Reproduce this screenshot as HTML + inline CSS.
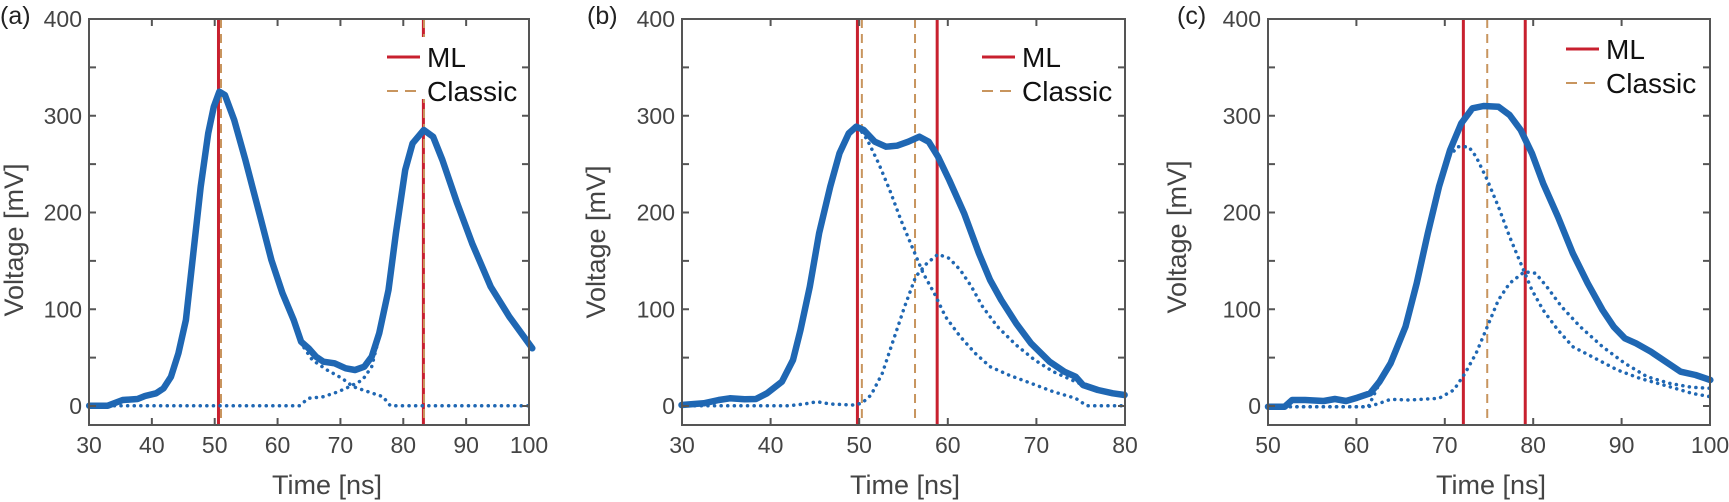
<!DOCTYPE html>
<html><head><meta charset="utf-8"><style>
html,body{margin:0;padding:0;background:#fff;}
svg{display:block;font-family:"Liberation Sans",sans-serif;}
</style></head><body>
<svg id="s" width="1729" height="502" viewBox="0 0 1729 502" xmlns="http://www.w3.org/2000/svg">
</svg>
<script>
const S=document.getElementById('s');
const NS='http://www.w3.org/2000/svg';
function el(t,a,txt){const e=document.createElementNS(NS,t);for(const k in a)e.setAttribute(k,a[k]);if(txt!==undefined)e.textContent=txt;S.appendChild(e);return e;}
function path(arr,x0,st){const d=[];for(let i=0;i<arr.length;i+=2)d.push((i?'L':'M')+(x0+arr[i]/2.69).toFixed(1)+' '+(arr[i+1]/3).toFixed(1));el('path',Object.assign({d:d.join(''),fill:'none','stroke-linejoin':'round','stroke-linecap':'round'},st));}
const BLUE='#1f67b3',RED='#c8202f',CL='#c8955e',AX='#555';
const MAIN={stroke:BLUE,'stroke-width':6.5};
const DOT={stroke:BLUE,'stroke-width':3.5,'stroke-dasharray':'0.1 6.5','stroke-linecap':'round'};
function panel(o){
 const L=o.L,R=o.R,T=19,B=425,Y0=406,k=(Y0-T)/400;
 const xs=v=>L+(v-o.t0)/(o.t1-o.t0)*(R-L);
 o.red.forEach(t=>el('line',{x1:xs(t),x2:xs(t),y1:T,y2:B,stroke:RED,'stroke-width':3}));
 o.cls.forEach(t=>el('line',{x1:xs(t),x2:xs(t),y1:T,y2:B,stroke:CL,'stroke-width':2,'stroke-dasharray':'9 6'}));
 o.dots.forEach(a=>path(a,o.x0,DOT));
 path(o.main,o.x0,MAIN);
 const lg=o.lg;
 if(o.lgbg) el('rect',{x:lg.x-6,y:lg.y-20,width:R-lg.x+4,height:62,fill:'#fff'});
 el('line',{x1:lg.x,x2:lg.x+33,y1:lg.y,y2:lg.y,stroke:RED,'stroke-width':3});
 el('line',{x1:lg.x,x2:lg.x+33,y1:lg.y+34,y2:lg.y+34,stroke:CL,'stroke-width':2,'stroke-dasharray':'11 7'});
 el('text',{x:lg.x+40,y:lg.y+10,'font-size':28,fill:'#111'},'ML');
 el('text',{x:lg.x+40,y:lg.y+44,'font-size':28,fill:'#111'},'Classic');
 el('rect',{x:L,y:T,width:R-L,height:B-T,fill:'none',stroke:AX,'stroke-width':2});
 for(let v=0;v<=400;v+=50){const y=Y0-v*k;
  el('line',{x1:L,x2:L+7,y1:y,y2:y,stroke:AX,'stroke-width':2});
  el('line',{x1:R-7,x2:R,y1:y,y2:y,stroke:AX,'stroke-width':2});
  if(v%100==0) el('text',{x:L-7,y:y+8,'font-size':23,fill:'#444','text-anchor':'end'},String(v));}
 for(let t=o.t0;t<=o.t1;t+=10){const x=xs(t);
  el('line',{x1:x,x2:x,y1:B,y2:B-7,stroke:AX,'stroke-width':2});
  el('line',{x1:x,x2:x,y1:T,y2:T+7,stroke:AX,'stroke-width':2});
  el('text',{x:x,y:453,'font-size':23,fill:'#444','text-anchor':'middle'},String(t));}
 el('text',{x:o.tx,y:494,'font-size':27,fill:'#444','text-anchor':'middle'},'Time [ns]');
 el('text',{x:0,y:0,'font-size':27,fill:'#444','text-anchor':'middle',transform:`translate(${o.vx+9},${o.vy}) rotate(-90)`},'Voltage [mV]');
 el('text',{x:o.px,y:24,'font-size':25,fill:'#222'},o.lab);
}
const aMain=[240,1217,290,1217,330,1200,370,1197,390,1188,420,1180,440,1165,460,1130,480,1060,500,960,520,760,540,560,560,400,575,320,590,275,605,285,630,360,660,480,700,650,730,780,760,880,790,960,810,1025,830,1045,850,1070,870,1085,900,1090,930,1105,955,1110,980,1100,1000,1070,1020,1000,1045,870,1065,700,1090,510,1110,430,1140,390,1165,410,1190,480,1230,610,1270,730,1320,860,1370,950,1432,1045];
const aD1=[240,1217,290,1217,330,1200,370,1197,390,1188,420,1180,440,1165,460,1130,480,1060,500,960,520,760,540,560,560,400,575,320,590,275,605,285,630,360,660,480,700,650,730,780,760,880,790,960,810,1030,840,1080,880,1110,920,1135,950,1160,990,1175,1030,1190,1050,1217,1432,1217];
const aD2=[290,1217,805,1217,830,1195,870,1190,910,1175,940,1160,975,1140,1000,1100,1020,1010,1045,870,1065,700,1090,510,1110,430,1140,390,1165,410,1190,480,1230,610,1270,730,1320,860,1370,950,1432,1045];
panel({x0:0,L:89,R:529,t0:30,t1:100,red:[50.6,83.2],cls:[51.0,83.3],main:aMain,dots:[aD1,aD2],lg:{x:387,y:57},lgbg:true,tx:327,vx:14,vy:240,px:0,lab:'(a)'});
const bMain=[300,1215,360,1210,400,1200,430,1195,470,1198,500,1197,530,1180,570,1145,600,1080,620,990,645,860,670,700,700,560,725,460,750,400,770,380,790,390,820,425,850,440,880,437,910,425,940,410,965,425,990,470,1020,540,1060,640,1100,760,1130,840,1160,900,1200,970,1240,1030,1290,1085,1330,1115,1360,1130,1380,1155,1420,1170,1460,1180,1492,1185];
const bD1=[300,1215,360,1210,400,1200,430,1195,470,1198,500,1197,530,1180,570,1145,600,1080,620,990,645,860,670,700,700,560,725,460,750,400,775,380,800,420,830,490,860,570,890,660,920,740,950,820,980,880,1010,950,1050,1010,1090,1060,1130,1100,1180,1125,1240,1150,1300,1175,1360,1195,1390,1217,1492,1217];
const bD2=[300,1217,590,1217,630,1212,665,1205,700,1212,760,1215,785,1210,810,1185,840,1120,870,1020,900,920,930,830,960,790,990,763,1020,775,1050,810,1080,860,1110,920,1150,980,1200,1035,1250,1080,1300,1115,1360,1145,1400,1165,1460,1180,1492,1185];
panel({x0:570,L:682,R:1125,t0:30,t1:80,red:[49.8,58.8],cls:[50.3,56.3],main:bMain,dots:[bD1,bD2],lg:{x:982,y:57},lgbg:false,tx:905,vx:596,vy:242,px:587,lab:'(b)'});
const cMain=[320,1220,365,1220,385,1200,420,1200,470,1203,500,1197,530,1203,560,1193,595,1180,620,1145,650,1090,690,980,720,850,750,700,780,560,810,450,840,370,870,325,900,318,940,320,970,345,1000,390,1030,460,1060,550,1100,650,1140,760,1180,850,1220,930,1250,980,1280,1015,1310,1030,1350,1055,1390,1085,1430,1115,1470,1125,1510,1140];
const cD1=[380,1220,590,1220,620,1150,650,1090,690,980,720,850,750,700,780,560,800,480,830,440,860,440,880,470,910,540,940,620,970,710,1000,790,1030,870,1060,930,1100,990,1140,1040,1200,1075,1260,1110,1320,1135,1400,1160,1460,1180,1510,1190];
const cD2=[380,1220,590,1220,620,1210,650,1198,700,1200,780,1195,820,1170,850,1120,880,1060,910,980,940,900,970,850,1010,815,1040,820,1070,860,1110,920,1160,980,1220,1040,1280,1090,1340,1130,1400,1150,1460,1162,1510,1165];
panel({x0:1149,L:1268,R:1710,t0:50,t1:100,red:[72.1,79.1],cls:[74.8],main:cMain,dots:[cD1,cD2],lg:{x:1566,y:49},lgbg:false,tx:1491,vx:1177,vy:237,px:1177,lab:'(c)'});
</script>
</body></html>
